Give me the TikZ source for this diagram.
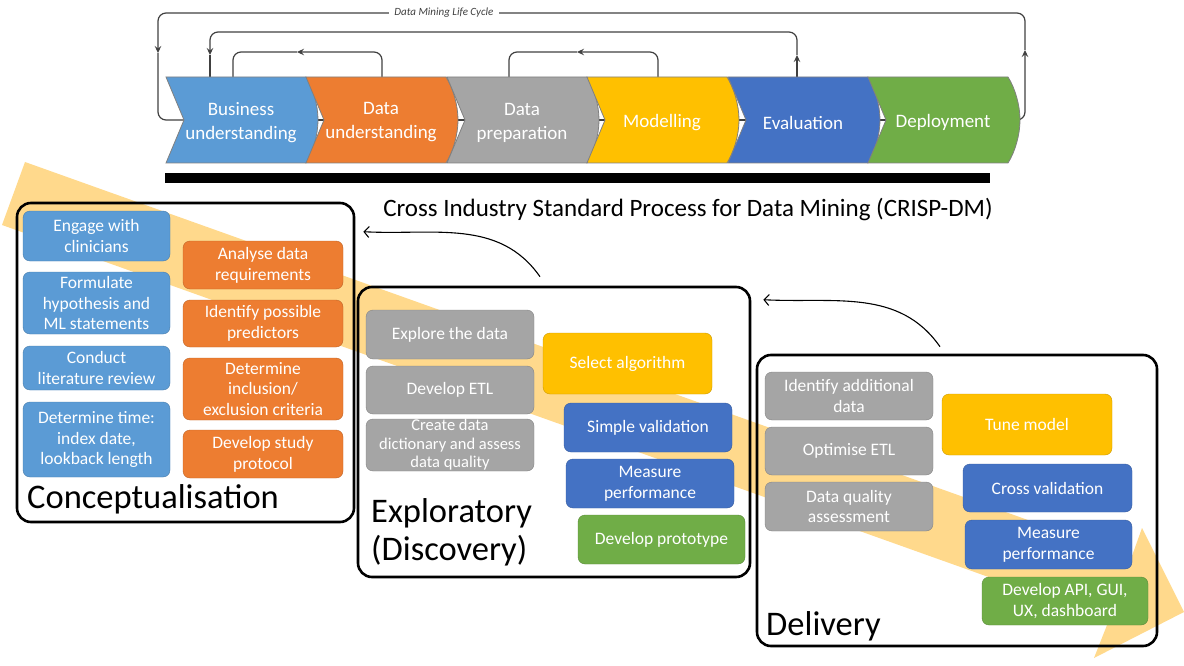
\documentclass[tikz,border=0pt]{standalone}
\usepackage{fontspec}
\setmainfont{Carlito}
\usepackage{tikz}
\usetikzlibrary{
    positioning,
    arrows.meta,
    calc
}
\definecolor{crispBlue}{HTML}{5B9BD5}
\definecolor{crispOrange}{HTML}{ED7D31}
\definecolor{crispGray}{HTML}{A5A5A5}
\definecolor{crispGold}{HTML}{FFC000}
\definecolor{crispNavy}{HTML}{4472C4}
\definecolor{crispGreen}{HTML}{70AD47}
\definecolor{bandYellow}{HTML}{FFD98C}
\definecolor{loopGray}{HTML}{404040}

\tikzset{
    looptip/.tip={Stealth[length=7pt, width=6.5pt, inset=2.5pt]},
    chevtext/.style={text=white, align=center, font=\fontsize{19}{24}\selectfont},
    task/.style={rounded corners=7pt, draw=#1!80!black, fill=#1, text=white, align=center,
        minimum width=168pt, minimum height=48pt, inner sep=1pt,
        font=\fontsize{17.5}{20.7}\selectfont},
    phasebox/.style={draw, line width=2.6pt, rounded corners=14pt},
    phaselabel/.style={inner sep=0pt, align=left, font=\fontsize{34.5}{38}\selectfont},
    loopline/.style={loopGray, line width=1.2pt, rounded corners=8pt},
    flowarrow/.style={line width=1.1pt, -{Straight Barb[length=5pt, width=11pt]}}
}

\begin{document}
\begin{tikzpicture}[x=1pt, y=-1pt]
        \useasboundingbox (0,0) rectangle (1184,666);
        \clip (0,0) rectangle (1184,666);

        % big band behind the three phases
        \fill[bandYellow] (25,162) -- (1131.6,557) -- (1142,528) -- (1184,612)
            -- (1094,658) -- (1109,620) -- (2,225) -- cycle;

        % CRISP-DM chevrons
        \foreach \x/\nm in {166/bu, 306/du, 447/dp, 587/mo, 728/ev, 868/de}{
            \coordinate (\nm) at (\x+74,120);
        }

        % loops (under the chevrons)
        \draw[loopline] (bu) -- (de);
        \draw[loopline, -looptip] (de) -| ($(de)+(83,-70)$);
        \draw[loopline, -looptip] ($(de)+(83,-70)$) |- ($(bu)+(-82,-107)$) -- ($(bu)+(-82,-67)$);
        \draw[loopline] ($(bu)+(-82,-67)$) |- (bu);
        \node[fill=white, inner xsep=5pt, inner ysep=1pt, text=loopGray,
            font=\fontsize{11}{13}\selectfont\itshape] (dmlc) at (444,13) {Data Mining Life Cycle};

        \draw[loopline, -looptip] ($(ev)+(-5,0)$) -- ($(ev)+(-5,-65)$);
        \draw[loopline, -looptip] ($(ev)+(-5,-65)$) |- ($(bu)+(-30,-88)$) -- ($(bu)+(-30,-65)$);
        \draw[loopline] ($(bu)+(-30,-65)$) -- ($(bu)+(-30,0)$);

        \draw[loopline, -looptip] ($(du)+(2,0)$) |- ($(bu)+(57,-68)$);
        \draw[loopline] ($(bu)+(57,-68)$) -| ($(bu)+(-7,0)$);
        \draw[loopline, -looptip] ($(mo)+(-3,0)$) |- ($(dp)+(56,-68)$);
        \draw[loopline] ($(dp)+(56,-68)$) -| ($(dp)+(-12,0)$);

        \foreach \x/\clr/\nm/\txt in {166/crispBlue/bu/{Business\\understanding},
                306/crispOrange/du/{Data\\understanding}, 447/crispGray/dp/{Data\\preparation},
                587/crispGold/mo/Modelling, 728/crispNavy/ev/Evaluation, 868/crispGreen/de/Deployment}{
            \filldraw[fill=\clr, draw=black!50, line width=0.8pt] (\x,77) -- (\x+140,77)
                .. controls (\x+147,88) and (\x+152,105) .. (\x+152,120)
                .. controls (\x+152,135) and (\x+147,152) .. (\x+140,163)
                -- (\x,163) -- (\x+18,120) -- cycle;
            \node[chevtext] (\nm txt) at (\x+75,122.5) {\txt};
        }

        \fill (165,173) rectangle (990,183);
        \node[font=\fontsize{25}{30}\selectfont, anchor=base] (title) at (688,216)
            {Cross Industry Standard Process for Data Mining (CRISP-DM)};

        % phases
        \node[phasebox, minimum width=337pt, minimum height=319pt] (concept) at (185.5,362.5) {};
        \node[phasebox, minimum width=392pt, minimum height=290pt] (explore) at (554,432) {};
        \node[phasebox, minimum width=400pt, minimum height=291pt] (deliver) at (957,500.5) {};

        \draw[flowarrow] ($(explore.north)+(-14,-9)$) to[out=125, in=-3] ($(concept.north east)+(8,30)$);
        \draw[flowarrow] ($(deliver.north)+(-17,-7)$) to[out=125, in=-3] ($(explore.north east)+(12,14)$);

        % conceptualisation tasks
        \node[task=crispBlue, minimum width=147pt, minimum height=50pt] (engage) at (96.5,236) {Engage with\\clinicians};
        \node[task=crispBlue, minimum width=147pt, minimum height=62pt] (hypo) at (96.5,303) {Formulate\\hypothesis and\\ML statements};
        \node[task=crispBlue, minimum width=147pt, minimum height=44pt] (litrev) at (96.5,368) {Conduct\\literature review};
        \node[task=crispBlue, minimum width=147pt, minimum height=75pt] (timing) at (96.5,439.5) {Determine time:\\index date,\\lookback length};
        \node[task=crispOrange, minimum width=160pt] (analyse) at (263,265) {Analyse data\\requirements};
        \node[task=crispOrange, minimum width=160pt, minimum height=47pt] (predict) at (263,323.5) {Identify possible\\predictors};
        \node[task=crispOrange, minimum width=160pt, minimum height=62pt] (incl) at (263,389) {Determine\\inclusion/\\exclusion criteria};
        \node[task=crispOrange, minimum width=160pt] (protocol) at (263,454) {Develop study\\protocol};
        \node[phaselabel, anchor=base west] (conceptlbl) at (27,508) {Conceptualisation};

        % exploratory tasks
        \node[task=crispGray, minimum height=49pt] (exploredata) at (450,334.5) {Explore the data};
        \node[task=crispGray] (etl) at (450,390) {Develop ETL};
        \node[task=crispGray, minimum height=52pt, inner sep=0pt, font=\fontsize{16.5}{18.5}\selectfont] (dict) at (450,445) {Create data\\dictionary and assess\\data quality};
        \node[task=crispGold, minimum width=169pt, minimum height=61pt] (algo) at (627.5,363.5) {Select algorithm};
        \node[task=crispNavy, minimum height=49pt] (simple) at (648,427.5) {Simple validation};
        \node[task=crispNavy, minimum height=49pt] (measureA) at (650,483.5) {Measure\\performance};
        \node[task=crispGreen, minimum width=167pt, minimum height=49pt] (proto) at (661.5,539.5) {Develop prototype};
        \node[phaselabel, anchor=west] (explorelbl) at (371,532) {Exploratory\\(Discovery)};

        % delivery tasks
        \node[task=crispGray] (additional) at (849,396) {Identify additional\\data};
        \node[task=crispGray] (optetl) at (849,451) {Optimise ETL};
        \node[task=crispGray, minimum height=49pt] (dq) at (849,506.5) {Data quality\\assessment};
        \node[task=crispGold, minimum width=170pt, minimum height=61pt] (tune) at (1027,424.5) {Tune model};
        \node[task=crispNavy, minimum width=169pt] (crossval) at (1047.5,488) {Cross validation};
        \node[task=crispNavy, minimum width=167pt, minimum height=49pt] (measureB) at (1048.5,544.5) {Measure\\performance};
        \node[task=crispGreen, minimum width=166pt] (api) at (1065,601) {Develop API, GUI,\\UX, dashboard};
        \node[phaselabel, anchor=base west] (deliverlbl) at (766,635) {Delivery};
    \end{tikzpicture}
\end{document}
